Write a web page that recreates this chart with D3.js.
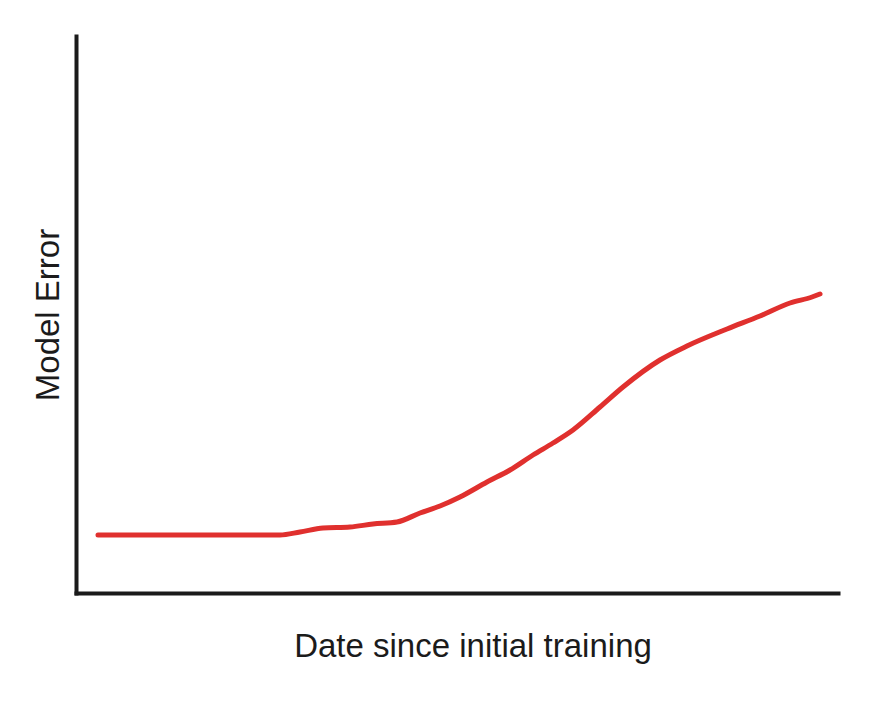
<!DOCTYPE html>
<html>
<head>
<meta charset="utf-8">
<script src="https://cdn.jsdelivr.net/npm/d3@7"></script>
<style>
  html, body { margin: 0; padding: 0; background: #ffffff; }
  svg { display: block; }
</style>
</head>
<body>
<svg id="chart" width="894" height="708"></svg>
<script>
// Data (arbitrary units)
const daysSinceTraining = [22, 204, 224, 247, 274, 297, 321, 344, 364, 384, 411, 434, 457, 477, 497, 524, 547, 584, 611, 651, 684, 714, 736, 744];
const modelError       = [58, 58, 61, 65, 66, 69, 71, 80, 87, 96, 111, 123, 138, 150, 163, 186, 206, 233, 247, 264, 277, 290, 296, 299];
const xDomain = [0, 762];
const yDomain = [0, 557];
const xLabel = "Date since initial training";
const yLabel = "Model Error";

const svg = d3.select("#chart");
const margin = { left: 76, top: 36, right: 56, bottom: 115 };
const width = 894, height = 708;

const x = d3.scaleLinear().domain(xDomain).range([margin.left, width - margin.right]);
const y = d3.scaleLinear().domain(yDomain).range([height - margin.bottom, margin.top]);

// Axes (no ticks, just the hand-drawn-looking lines)
const xAxis = svg.append("g")
  .attr("transform", `translate(0,${y(0)})`)
  .call(d3.axisBottom(x).tickValues([]).tickSizeOuter(0));
const yAxis = svg.append("g")
  .attr("transform", `translate(${x(0)},0)`)
  .call(d3.axisLeft(y).tickValues([]).tickSizeOuter(0));
[xAxis, yAxis].forEach(g => g.select(".domain")
  .attr("stroke", "#1b1b1b")
  .attr("stroke-width", 4)
  .attr("stroke-linecap", "square"));

// Line
const data = daysSinceTraining.map((d, i) => ({ x: d, y: modelError[i] }));
const line = d3.line()
  .x(d => x(d.x))
  .y(d => y(d.y))
  .curve(d3.curveMonotoneX);

svg.append("path")
  .datum(data)
  .attr("d", line)
  .attr("fill", "none")
  .attr("stroke", "#e0302e")
  .attr("stroke-width", 5)
  .attr("stroke-linecap", "round")
  .attr("stroke-linejoin", "round");

// Labels
svg.append("text")
  .attr("x", 473)
  .attr("y", 657)
  .attr("text-anchor", "middle")
  .attr("font-family", "Liberation Sans, Arial, Helvetica, sans-serif")
  .attr("font-size", 33)
  .attr("fill", "#1b1b1b")
  .text(xLabel);

svg.append("text")
  .attr("transform", "translate(59,315) rotate(-90)")
  .attr("text-anchor", "middle")
  .attr("font-family", "Liberation Sans, Arial, Helvetica, sans-serif")
  .attr("font-size", 33)
  .attr("fill", "#1b1b1b")
  .text(yLabel);
</script>
</body>
</html>
